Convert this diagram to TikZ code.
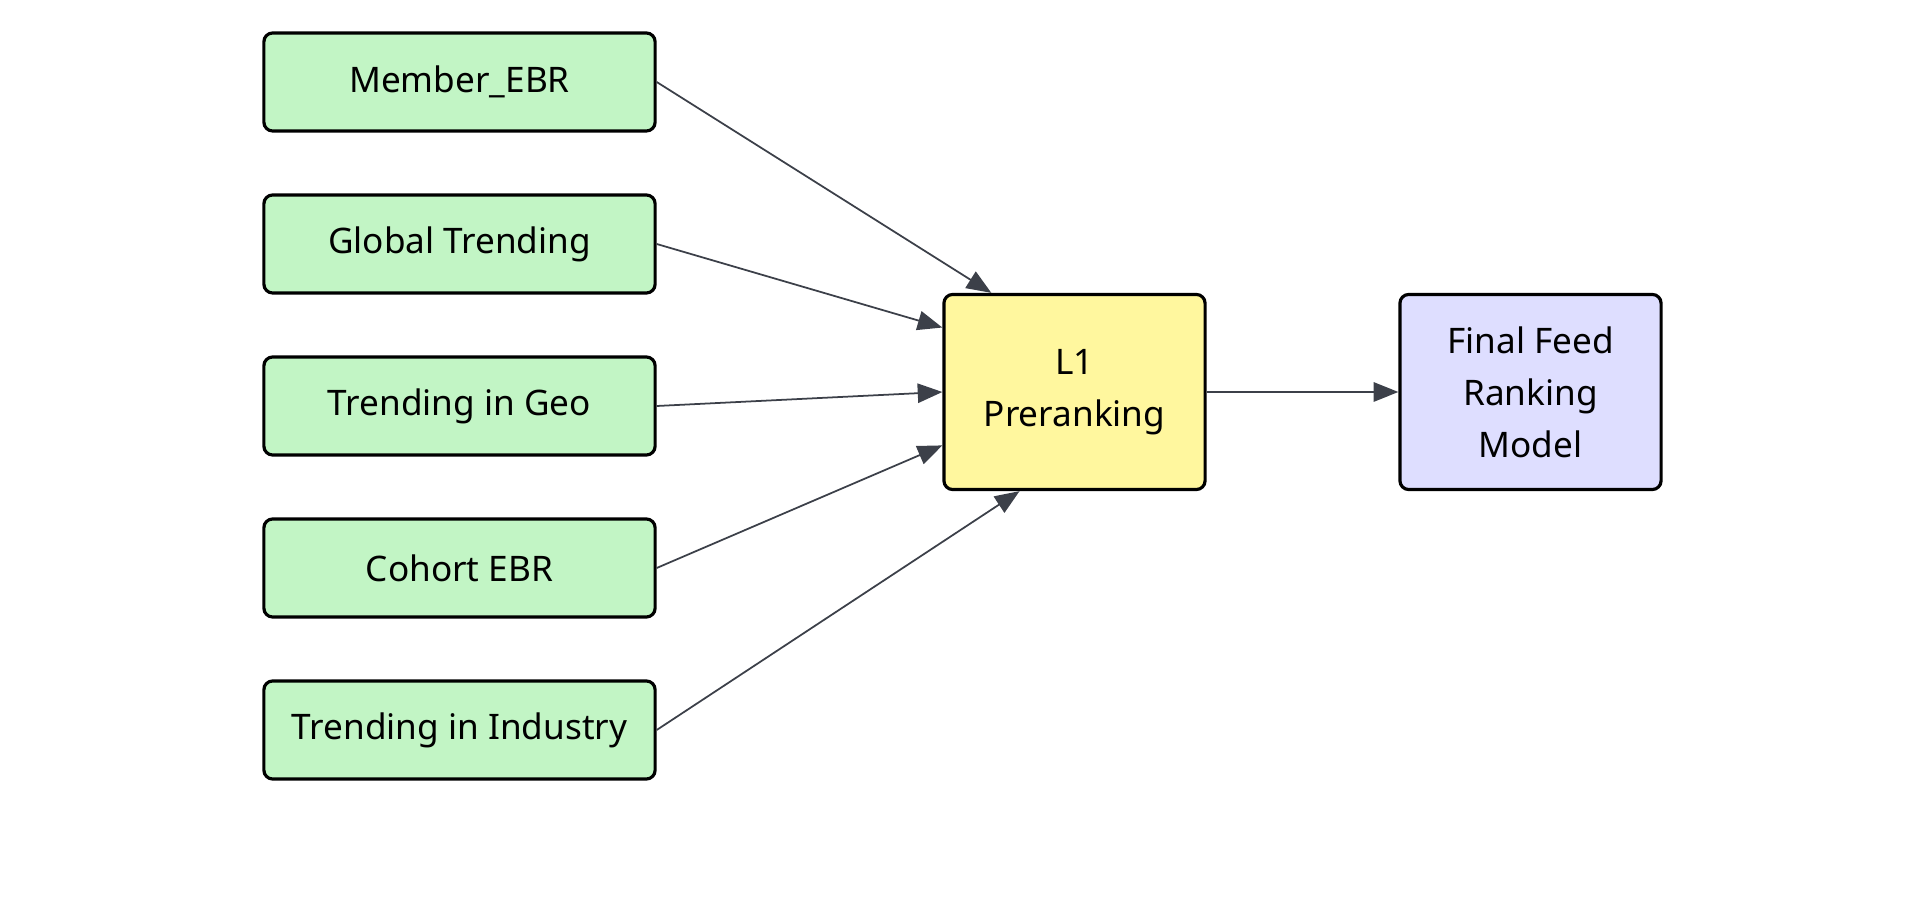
\documentclass[tikz,border=0pt]{standalone}
\usepackage{fontspec}
\setmainfont{Noto Sans}
\usetikzlibrary{arrows.meta}

\definecolor{srcgreen}{HTML}{C2F5C5}
\definecolor{preyellow}{HTML}{FFF79E}
\definecolor{finalblue}{HTML}{DEDEFF}
\definecolor{edgegrey}{HTML}{3C4049}

\tikzset{
	box/.style={draw=black, line width=0.9pt, rounded corners=2.5pt, inner sep=0pt,
		align=center, font=\fontsize{10}{14.8}\selectfont},
	srcbox/.style={box, fill=srcgreen, minimum width=3.91cm, minimum height=0.98cm},
	stagebox/.style={box, minimum width=2.61cm, minimum height=1.95cm},
	flow/.style={draw=edgegrey, line width=0.5pt, -{Triangle[length=7pt, width=5.5pt]}, fill=edgegrey}
}

\begin{document}
\begin{tikzpicture}[x=0.01cm, y=-0.01cm]
		\useasboundingbox (0, 0) rectangle (1924, 916);

		\foreach \name/\txt [count=\i from 0] in {member/Member\_EBR, global/Global Trending, geo/Trending in Geo, cohort/Cohort EBR, industry/Trending in Industry} {
			\node [srcbox] (\name) at (459.5, 82 + 162*\i) {\txt};
		}

		\node [stagebox, fill=preyellow] (l1) at (1074.5, 392) {L1\\Preranking};
		\node [stagebox, fill=finalblue] (final) at (1530.5, 392) {Final Feed\\Ranking\\Model};

		\foreach \name/\ang in {member/130, global/154, geo/180, cohort/202, industry/241} {
			\draw [flow] (\name.east) -- (l1.\ang);
		}

		\draw [flow] (l1.east) -- (final.west);
	\end{tikzpicture}
\end{document}
